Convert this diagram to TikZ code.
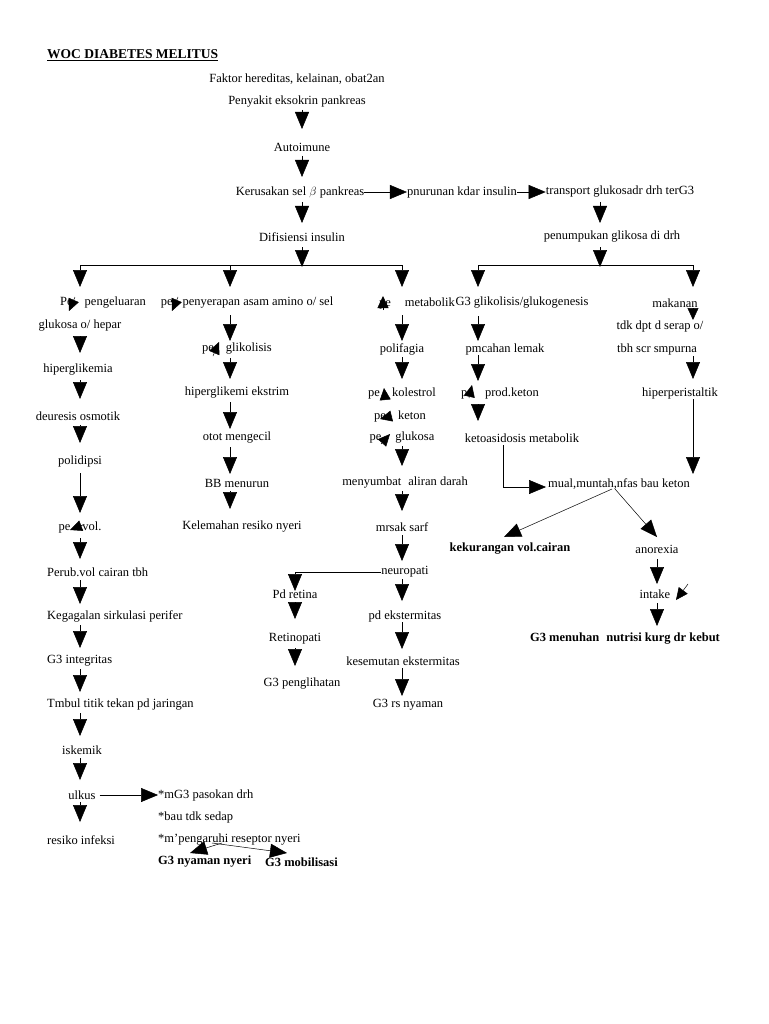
\documentclass[tikz,border=0pt]{standalone}
\usepackage{fontspec}
\setmainfont{Liberation Serif}
\usetikzlibrary{arrows.meta}
\begin{document}
\begin{tikzpicture}[x=1pt,y=-1pt,
  t/.style={inner sep=0pt,font=\fontsize{12.5}{14}\selectfont},
  tl/.style={t,anchor=west},
  b/.style={t,font=\fontsize{12.5}{14}\selectfont\bfseries},
  ar/.style={line width=0.5pt,-{Triangle[width=14pt,length=17pt]}},
  sa/.style={line width=0.5pt,-{Triangle[width=11pt,length=12pt]}},
  ln/.style={line width=0.5pt}]
\useasboundingbox (0,0) rectangle (768,1024);
\newcommand\dar[3]{\draw[ar] (#1,#2) -- (#1,#3);}
% title
\node[b,anchor=west,font=\fontsize{13.5}{15}\selectfont\bfseries] (title) at (47,55) {\underline{WOC DIABETES MELITUS}};
\node[t] (f) at (297,79) {Faktor hereditas, kelainan, obat2an};
\node[t] (pe) at (297,102) {Penyakit eksokrin pankreas};
\dar{302}{110}{129}
\node[t] (au) at (302,147) {Autoimune};
\dar{302}{156}{177}
\node[t] (ks) at (300,192) {Kerusakan sel $\beta$ pankreas};
\node[t] (pn) at (462,192) {pnurunan kdar insulin};
\node[t] (tg) at (620,192) {transport glukosadr drh terG3};
\draw[ar] (ks.east) -- (pn.west);
\draw[ar] (pn.east) -- (tg.west);
\dar{302}{202}{223}
\dar{600}{202}{223}
\node[t] (di) at (302,237) {Difisiensi insulin};
\node[t] (pg) at (612,237) {penumpukan glikosa di drh};
% branches
\draw[ln] (302,247) -- (302,265);
\draw[ar] (302,250) -- (302,267);
\draw[ln] (80,265) -- (402,265);
\dar{80}{265}{287}\dar{230}{265}{287}\dar{402}{265}{287}
\draw[ar] (600,247) -- (600,267);
\draw[ln] (478,265) -- (693,265);
\dar{478}{265}{287}\dar{693}{265}{287}
% row 303
\node[t] (c1) at (103,303) {Pe\hspace{12pt}pengeluaran};
\node[t] (c2) at (247,303) {pe\hspace{10pt}penyerapan asam amino o/ sel};
\node[t] (c3) at (417,303) {pe\hspace{14pt}metabolik};
\node[t] (c4) at (522,303) {G3 glikolisis/glukogenesis};
\node[t] (c5) at (675,303) {makanan};
\draw[sa] (75,297) -- (69,311);
\draw[sa] (178,297) -- (172,311);
\draw[sa] (383,310) -- (383,296);
% column 1
\node[t] (a1) at (80,326) {glukosa o/ hepar};
\dar{80}{336}{353}
\node[t] (a2) at (78,370) {hiperglikemia};
\dar{80}{380}{399}
\node[t] (a3) at (78,416) {deuresis osmotik};
\dar{80}{425}{443}
\node[t] (a4) at (80,461) {polidipsi};
\dar{80}{473}{513}
\node[t] (a5) at (80,527) {pe\hspace{12pt}vol.};
\draw[sa] (83,525) -- (70,530);
\dar{80}{538}{559}
\node[tl] (a6) at (47,572) {Perub.vol cairan tbh};
\dar{80}{580}{604}
\node[tl] (a7) at (47,616) {Kegagalan sirkulasi perifer};
\dar{80}{625}{648}
\node[tl] (a8) at (47,661) {G3 integritas};
\dar{80}{669}{692}
\node[tl] (a9) at (47,705) {Tmbul titik tekan pd jaringan};
\dar{80}{713}{736}
\node[t] (a10) at (82,750) {iskemik};
\dar{80}{758}{780}
\node[t] (a11) at (82,795) {ulkus};
\node[tl] (m1) at (158,795) {*mG3 pasokan drh};
\draw[ar] (a11.east)++(4,0) -- (m1.west);
\dar{80}{802}{822}
\node[tl] (a12) at (47,840) {resiko infeksi};
\node[tl] (m2) at (158,817) {*bau tdk sedap};
\node[tl] (m3) at (158,840) {*m'pengaruhi reseptor nyeri};
\node[b,anchor=west] (n1) at (158,862) {G3 nyaman nyeri};
\node[b,anchor=west] (n2) at (265,862) {G3 mobilisasi};
\draw[ar] (222,843) -- (190,853);
\draw[ar] (212,843) -- (287,853);
% column 2
\dar{230}{315}{341}
\node[t] (b1) at (237,349) {pe\hspace{12pt}glikolisis};
\draw[sa] (213,356) -- (219,342);
\dar{230}{358}{379}
\node[t] (b2) at (237,393) {hiperglikemi ekstrim};
\dar{230}{402}{429}
\node[t] (b3) at (237,438) {otot mengecil};
\dar{230}{447}{474}
\node[t] (b4) at (237,483) {BB menurun};
\dar{230}{491}{509}
\node[t] (b5) at (242,527) {Kelemahan resiko nyeri};
% column 3
\dar{402}{315}{341}
\node[t] (d1) at (402,349) {polifagia};
\dar{402}{357}{379}
\node[t] (d2) at (402,393) {pe\hspace{12pt}kolestrol};
\draw[sa] (385,398) -- (384,388);
\node[t] (d3) at (400,416) {pe\hspace{12pt}keton};
\draw[sa] (392,416) -- (380,419);
\node[t] (d4) at (402,438) {pe\hspace{14pt}glukosa};
\draw[sa] (381,444) -- (390,434);
\dar{402}{446}{466}
\node[t] (d5) at (405,483) {menyumbat\hspace{4pt} aliran darah};
\dar{402}{491}{511}
\node[t] (d6) at (402,527) {mrsak sarf};
\dar{402}{535}{561}
\node[t] (d7) at (405,572) {neuropati};
\draw[ln] (d7.west) -- (295,572);
\dar{295}{572}{591}
\node[t] (e1) at (295,594) {Pd retina};
\dar{295}{604}{619}
\node[t] (e2) at (295,639) {Retinopati};
\dar{295}{648}{666}
\node[t] (e3) at (302,684) {G3 penglihatan};
\dar{402}{579}{601}
\node[t] (d8) at (405,616) {pd ekstermitas};
\dar{402}{622}{649}
\node[t] (d9) at (403,661) {kesemutan ekstermitas};
\dar{402}{668}{696}
\node[t] (d10) at (408,705) {G3 rs nyaman};
% column 4
\dar{478}{316}{341}
\node[t] (g1) at (505,349) {pmcahan lemak};
\dar{478}{355}{381}
\node[t] (g2) at (500,393) {pe\hspace{12pt}prod.keton};
\draw[sa] (469,398) -- (472,385);
\dar{478}{404}{421}
\node[t] (g3) at (522,438) {ketoasidosis metabolik};
\node[tl] (mu) at (548,484) {mual,muntah,nfas bau keton};
\coordinate (mk) at (503,487);
\draw[ar] (503,445) -- (mk) -- (546,487);
% column 5
\draw[sa] (693,308) -- (693,320);
\node[t] (h1) at (660,326) {tdk dpt d serap o/};
\node[t] (h2) at (657,349) {tbh scr smpurna};
\dar{693}{356}{379}
\node[t] (h3) at (680,393) {hiperperistaltik};
\dar{693}{399}{474}
\node[b] (k1) at (510,549) {kekurangan vol.cairan};
\node[t] (k2) at (657,549) {anorexia};
\draw[ar] (612,489) -- (504,537);
\draw[ar] (615,489) -- (657,537);
\dar{657}{559}{584}
\node[t] (k3) at (655,594) {intake};
\draw[sa] (688,584) -- (676,600);
\dar{657}{603}{626}
\node[b] (k4) at (625,639) {G3 menuhan\hspace{4pt} nutrisi kurg dr kebut};
\end{tikzpicture}
\end{document}
